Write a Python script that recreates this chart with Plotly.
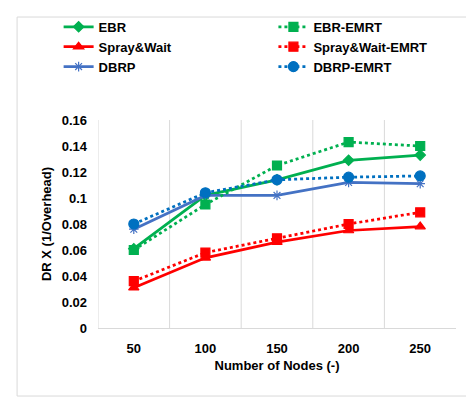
import plotly.graph_objects as go

nodes = [50, 100, 150, 200, 250]
tick_labels = ["50", "100", "150", "200", "250"]

ebr = [0.061, 0.102, 0.114, 0.129, 0.133]
ebr_emrt = [0.060, 0.095, 0.125, 0.143, 0.140]
spray = [0.031, 0.054, 0.066, 0.075, 0.078]
spray_emrt = [0.036, 0.058, 0.069, 0.080, 0.089]
dbrp = [0.076, 0.102, 0.102, 0.112, 0.111]
dbrp_emrt = [0.080, 0.104, 0.114, 0.116, 0.117]

GREEN = "#00B050"
RED = "#FF0000"
BLUE = "#4472C4"
DBLUE = "#0070C0"

fig = go.Figure()

def add(name, y, color, dash, symbol, size, legend, lw=2.75):
    fig.add_trace(go.Scatter(
        x=nodes, y=y, name=name, mode="lines+markers",
        line=dict(color=color, width=lw, dash=dash),
        marker=dict(symbol=symbol, size=size, color=color,
                    line=dict(color=color, width=1.2)),
        legend=legend,
    ))

add("EBR", ebr, GREEN, "solid", "diamond", 8, "legend")
add("Spray&Wait", spray, RED, "solid", "triangle-up", 9, "legend")
add("DBRP", dbrp, BLUE, "solid", "asterisk-open", 8, "legend")
add("EBR-EMRT", ebr_emrt, GREEN, "dot", "square", 9, "legend2")
add("Spray&Wait-EMRT", spray_emrt, RED, "dot", "square", 9, "legend2")
add("DBRP-EMRT", dbrp_emrt, DBLUE, "dot", "circle", 10, "legend2")

# vertical gridlines at category boundaries
step = nodes[1] - nodes[0]
bounds = [nodes[0] - step / 2 + i * step for i in range(len(nodes) + 1)]
shapes = []
for b in bounds[:-1]:
    shapes.append(dict(type="line", xref="x", yref="paper", x0=b, x1=b, y0=0, y1=1,
                       line=dict(color="#D9D9D9", width=1), layer="below"))
# outer chart border
shapes.append(dict(type="rect", xref="paper", yref="paper",
                   x0=-0.226, x1=1.042, y0=-0.327, y1=1.495,
                   line=dict(color="#D9D9D9", width=1)))

fontfam = "Liberation Sans, Arial, sans-serif"
fig.update_layout(
    width=474, height=399,
    margin=dict(l=90, r=26, t=112, b=79, autoexpand=False),
    paper_bgcolor="white", plot_bgcolor="white",
    font=dict(family=fontfam, color="#000000"),
    shapes=shapes,
    xaxis=dict(range=[bounds[0], bounds[-1]], tickvals=nodes, ticktext=tick_labels,
               showgrid=False, zeroline=False, showline=True, linecolor="#D9D9D9",
               linewidth=1, ticks="", automargin=False, ticklabelstandoff=8,
               tickfont=dict(size=13, family=fontfam, weight="bold"),
               title=dict(text="<b>Number of Nodes (-)</b>", font=dict(size=13), standoff=6)),
    yaxis=dict(range=[0, 0.16], dtick=0.02, tickformat="~g", showgrid=False,
               zeroline=False, showline=False, ticks="", automargin=False,
               ticklabelstandoff=10,
               tickfont=dict(size=13, family=fontfam, weight="bold"),
               title=dict(text="<b>DR X (1/Overhead)</b>", font=dict(size=13), standoff=7)),
    legend=dict(x=-0.11, y=1.52, xanchor="left", yanchor="top",
                font=dict(size=13, family=fontfam, weight="bold"),
                bgcolor="rgba(0,0,0,0)", tracegroupgap=0, itemwidth=30),
    legend2=dict(x=0.49, y=1.52, xanchor="left", yanchor="top",
                 font=dict(size=13, family=fontfam, weight="bold"),
                 bgcolor="rgba(0,0,0,0)", tracegroupgap=0, itemwidth=30),
)

fig.write_html("out.html")
